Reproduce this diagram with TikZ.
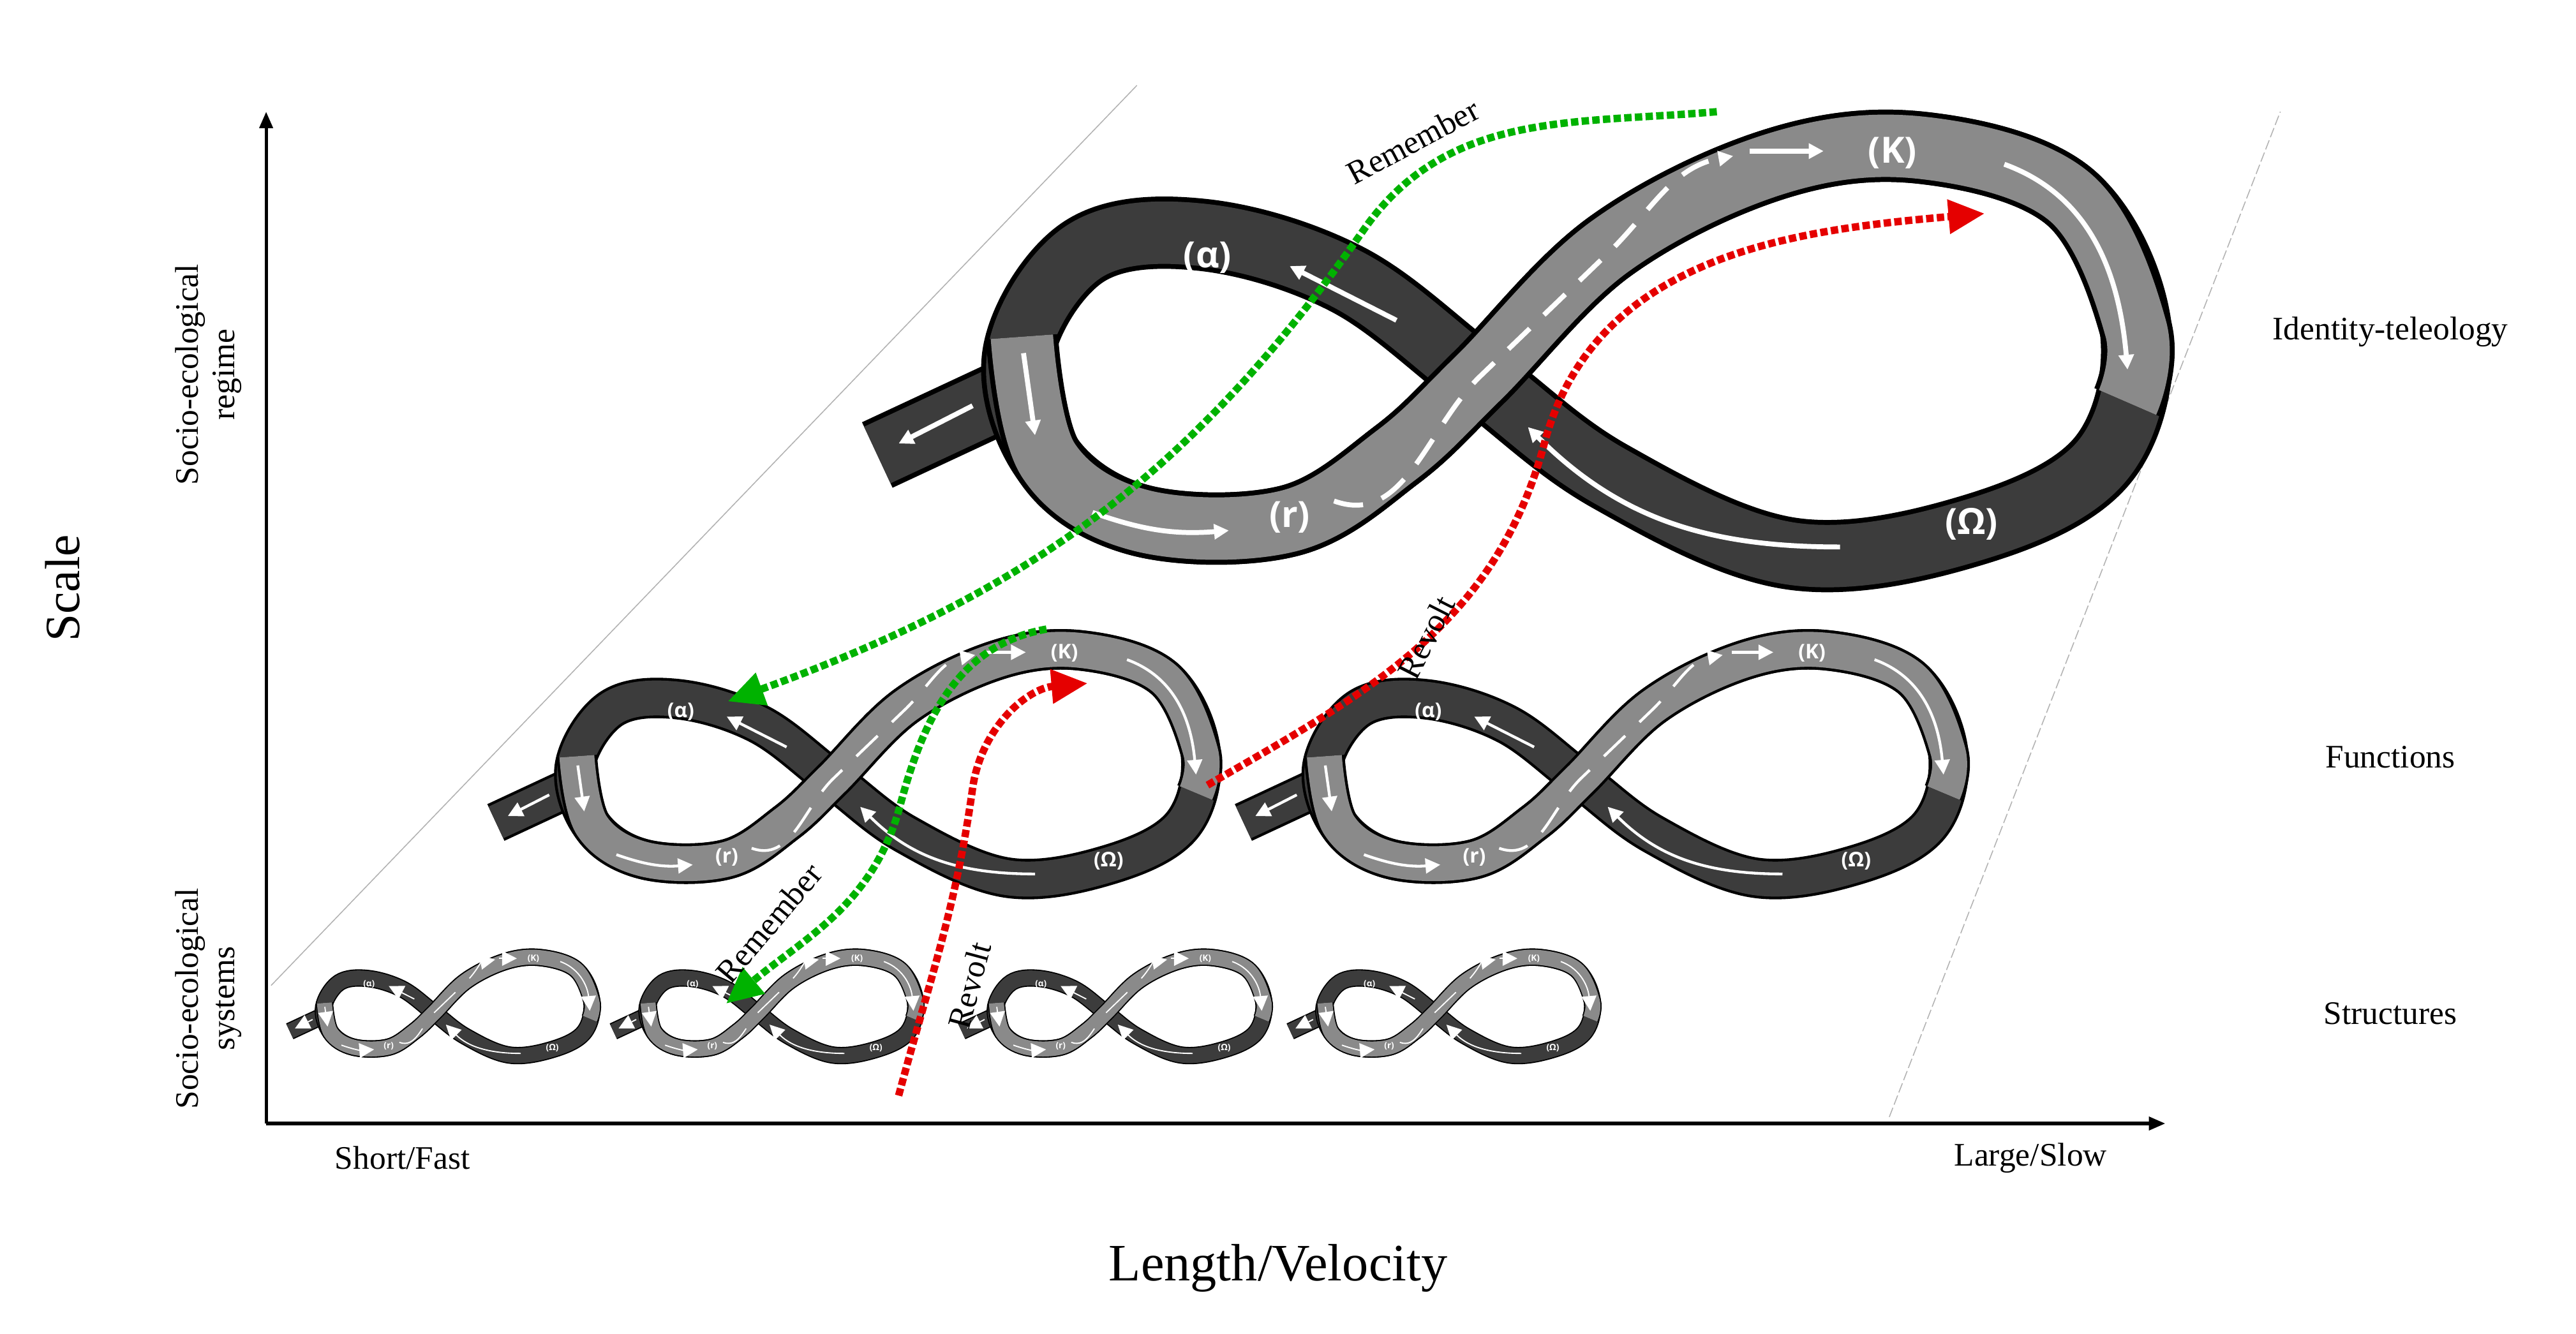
\documentclass[tikz,border=0pt]{standalone}
\usepackage{fontspec}
\setmainfont{Liberation Serif}
\newfontfamily\lsans{Open Sans}
\usetikzlibrary{arrows.meta}
\definecolor{dk}{HTML}{3C3C3C}
\definecolor{lt}{HTML}{8A8A8A}
\tikzset{
  lbl/.style={font=\fontsize{20}{22}\selectfont},
  loopl/.style={text=white,font=\lsans\bfseries\fontsize{22}{24}\selectfont},
  warr/.style={white,line width=3,-{Triangle[length=9,width=9]}},
  remem/.style={green!70!black,line width=4.5,dotted,-{Triangle[length=22,width=20]}},
  revolt/.style={red!90!black,line width=4.5,dotted,-{Triangle[length=22,width=20]}},
}
\newcommand\panloop[4]{%
\begin{scope}[shift={(#1,#2)},scale=#3,transform shape]
\pgfmathsetmacro\bo{44*#3}\pgfmathsetmacro\bi{38*#3}\pgfmathsetmacro\aw{3*#3}
% tail
\draw[line width=\bo pt] (104,170) -- (14,212);
\draw[dk,line width=\bi pt] (104,170) -- (14,212);
% dark cycle
\draw[line width=\bo pt] plot[smooth cycle,tension=0.6] coordinates {(265,252)(330,212)(380,165)(460,85)(560,35)(650,25)(740,55)(780,135)(760,215)(680,258)(570,272)(460,225)(380,165)(300,105)(212,78)(140,88)(100,150)(118,215)(175,252)};
\draw[dk,line width=\bi pt] plot[smooth cycle,tension=0.6] coordinates {(265,252)(330,212)(380,165)(460,85)(560,35)(650,25)(740,55)(780,135)(760,215)(680,258)(570,272)(460,225)(380,165)(300,105)(212,78)(140,88)(100,150)(118,215)(175,252)};
% light segment
\draw[line width=\bo pt] plot[smooth,tension=0.6] coordinates {(102,140)(118,215)(175,252)(265,252)(330,212)(380,165)(460,85)(560,35)(650,25)(740,55)(780,135)(775,180)};
\draw[lt,line width=\bi pt] plot[smooth,tension=0.6] coordinates {(102,140)(118,215)(175,252)(265,252)(330,212)(380,165)(460,85)(560,35)(650,25)(740,55)(780,135)(775,180)};
% white arrows
\draw[warr,line width=\aw pt] (145,247) to[bend right=12] (228,258);
\draw[warr,line width=\aw pt,dash pattern=on 18pt off 12pt] (292,240) to[out=-20,in=225] (380,165) -- (460,88) to[out=45,in=190] (535,30);
\draw[warr,line width=\aw pt] (545,27) -- (590,27);
\draw[warr,line width=\aw pt] (700,35) to[out=-20,in=95] (775,160);
\draw[warr,line width=\aw pt] (600,268) to[out=180,in=-45] (410,195);
\draw[warr,line width=\aw pt] (330,130) -- (265,97);
\draw[warr,line width=\aw pt] (103,150) -- (110,200);
\draw[warr,line width=\aw pt] (72,182) -- (27,205);
\node[loopl] (#4a) at (215,92) {(α)};
\node[loopl] (#4k) at (632,28) {(K)};
\node[loopl] (#4r) at (265,250) {(r)};
\node[loopl] (#4o) at (680,254) {(Ω)};
\end{scope}}
\begin{document}
\begin{tikzpicture}[x=1pt,y=-1pt]
\useasboundingbox[fill=white] (0,0) rectangle (1568,812);
% guide lines
\coordinate (g1) at (165,600); \coordinate (g2) at (692,52);
\coordinate (g3) at (1150,680); \coordinate (g4) at (1388,68);
\draw[gray!60,line width=0.6] (g1) -- (g2);
\draw[gray!60,line width=0.6,dash pattern=on 6pt off 2pt] (g3) -- (g4);
% axes
\coordinate (o) at (162,684); \coordinate (ytop) at (162,68); \coordinate (xend) at (1318,684);
\draw[line width=2,-{Triangle[length=10,width=8]}] (o) -- (ytop);
\draw[line width=2,-{Triangle[length=10,width=8]}] (o) -- (xend);
% loops
\panloop{520}{65}{1}{B}
\panloop{294}{382}{0.56}{M}
\panloop{749}{382}{0.56}{N}
\panloop{173}{577}{0.24}{S}
\panloop{370}{577}{0.24}{T}
\panloop{582}{577}{0.24}{U}
\panloop{782}{577}{0.24}{V}
% connectors
\coordinate (c1) at (1045,68); \coordinate (c2) at (443,427);
\coordinate (c3) at (735,478); \coordinate (c4) at (1208,130);
\coordinate (c5) at (637,383); \coordinate (c6) at (442,611);
\coordinate (c7) at (547,667); \coordinate (c8) at (662,416);
\draw[remem] (c1) to[out=185,in=55] (830,140) to[out=235,in=20] (c2);
\draw[revolt] (c3) to[out=30,in=255] (940,270) to[out=75,in=185] (c4);
\draw[remem] (c5) to[out=190,in=75] (548,490) to[out=255,in=40] (c6);
\draw[revolt] (c7) to[out=75,in=262] (592,480) to[out=82,in=185] (c8);
\node[lbl,rotate=28] (t1) at (860,86) {Remember};
\node[lbl,rotate=63] (t2) at (868,388) {Revolt};
\node[lbl,rotate=50] (t3) at (468,562) {Remember};
\node[lbl,rotate=75] (t4) at (590,600) {Revolt};
% texts
\node[font=\fontsize{30}{34}\selectfont,rotate=90] (scale) at (38,358) {Scale};
\node[lbl,rotate=90,align=center] (reg) at (127,228) {Socio-ecological\\regime};
\node[lbl,rotate=90,align=center] (sys) at (127,608) {Socio-ecological\\systems};
\node[lbl] (sf) at (245,705) {Short/Fast};
\node[lbl] (ls) at (1236,705) {Large/Slow};
\node[font=\fontsize{32}{36}\selectfont] (lv) at (778,772) {Length/Velocity};
\node[lbl] (it) at (1455,202) {Identity-teleology};
\node[lbl] (fn) at (1455,461) {Functions};
\node[lbl] (st) at (1455,617) {Structures};
\end{tikzpicture}
\end{document}
